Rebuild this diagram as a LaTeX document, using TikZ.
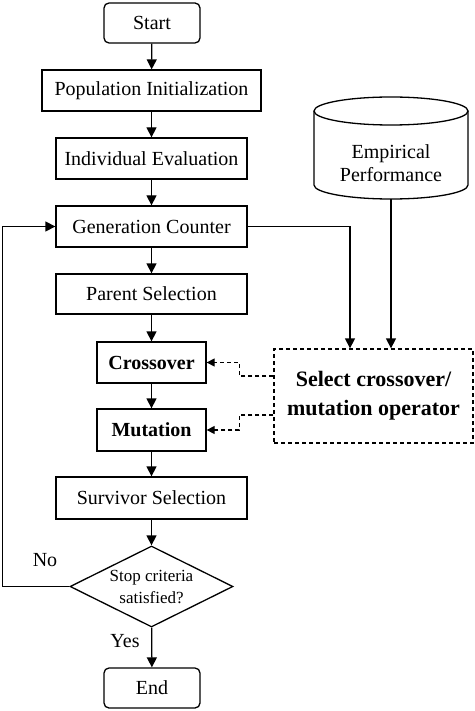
\documentclass[tikz,border=0pt]{standalone}
\usepackage{fontspec}
\setmainfont{Liberation Serif}
\usetikzlibrary{arrows.meta,shapes.geometric}
\begin{document}
\begin{tikzpicture}[x=1pt,y=-1pt,line width=1.3pt,
    box/.style={draw,inner sep=2pt,font=\fontsize{20}{24}\selectfont},
    term/.style={box,rounded corners=5pt,minimum width=96pt,minimum height=40pt},
    opbox/.style={box,font=\fontsize{20}{24}\selectfont\bfseries,minimum width=109pt,minimum height=41pt},
    cond/.style={draw,diamond,aspect=2,inner sep=0pt,minimum width=163pt,minimum height=81pt,align=center,font=\fontsize{17}{22}\selectfont},
    selbox/.style={draw,dash pattern=on 4pt off 3pt,minimum width=199pt,minimum height=94pt,align=center,font=\fontsize{22}{29}\selectfont\bfseries},
    line/.style={-{Triangle[length=10pt,width=10pt]}},
    dline/.style={dash pattern=on 4pt off 3pt,-{Triangle[length=8pt,width=8pt]}}]
    \useasboundingbox (0,0) rectangle (474,711);
    % main column
    \node[term] (start) at (152,23) {Start};
    \node[box,minimum width=219pt,minimum height=41pt] (pop) at (151.5,90.5) {Population Initialization};
    \node[box,minimum width=191pt,minimum height=41pt] (ind) at (151.5,158.5) {Individual Evaluation};
    \node[box,minimum width=191pt,minimum height=41pt] (gen) at (151.5,226.5) {Generation Counter};
    \node[box,minimum width=191pt,minimum height=40pt] (par) at (151.5,294) {Parent Selection};
    \node[opbox] (cross) at (151.5,362.5) {Crossover};
    \node[opbox,minimum height=42pt] (mut) at (151.5,430) {Mutation};
    \node[box,minimum width=191pt,minimum height=42pt] (surv) at (151.5,498) {Survivor Selection};
    \node[cond] (stop) at (151.5,586.5) {Stop criteria\\satisfied?};
    \node[term] (end) at (152,688) {End};
    % right side: data store
    \draw (391,111) ellipse [x radius=77pt, y radius=14pt];
    \draw (314,111) -- (314,185) arc[start angle=180, end angle=360, x radius=77pt, y radius=14pt] -- (468,111);
    \node[align=center,font=\fontsize{20}{23}\selectfont] (perf) at (391,163) {Empirical\\Performance};
    \coordinate (perfbot) at (391,199);
    \node[selbox] (sel) at (373.5,396) {Select crossover/\\mutation operator};
    \node[font=\fontsize{20}{24}\selectfont] (no) at (45,560) {No};
    \node[font=\fontsize{20}{24}\selectfont] (yes) at (125,641) {Yes};

    \draw[line] (start) -- (pop);
    \draw[line] (pop) -- (ind);
    \draw[line] (ind) -- (gen);
    \draw[line] (gen) -- (par);
    \draw[line] (par) -- (cross);
    \draw[line] (cross) -- (mut);
    \draw[line] (mut) -- (surv);
    \draw[line] (surv) -- (stop);
    \draw[line] (stop) -- (end);
    \draw[line] (stop.west) -- ++(-67,0) |- (gen.west);
    \draw[line] (gen.east) -| ([xshift=-23.5pt]sel.north);
    \draw[line] (perfbot) -- (perfbot |- sel.north);
    \draw[dline] ([yshift=20pt]sel.west) -- ++(-34,0) |- (cross.east);
    \draw[dline] ([yshift=-19pt]sel.west) -- ++(-34,0) |- (mut.east);
\end{tikzpicture}
\end{document}
